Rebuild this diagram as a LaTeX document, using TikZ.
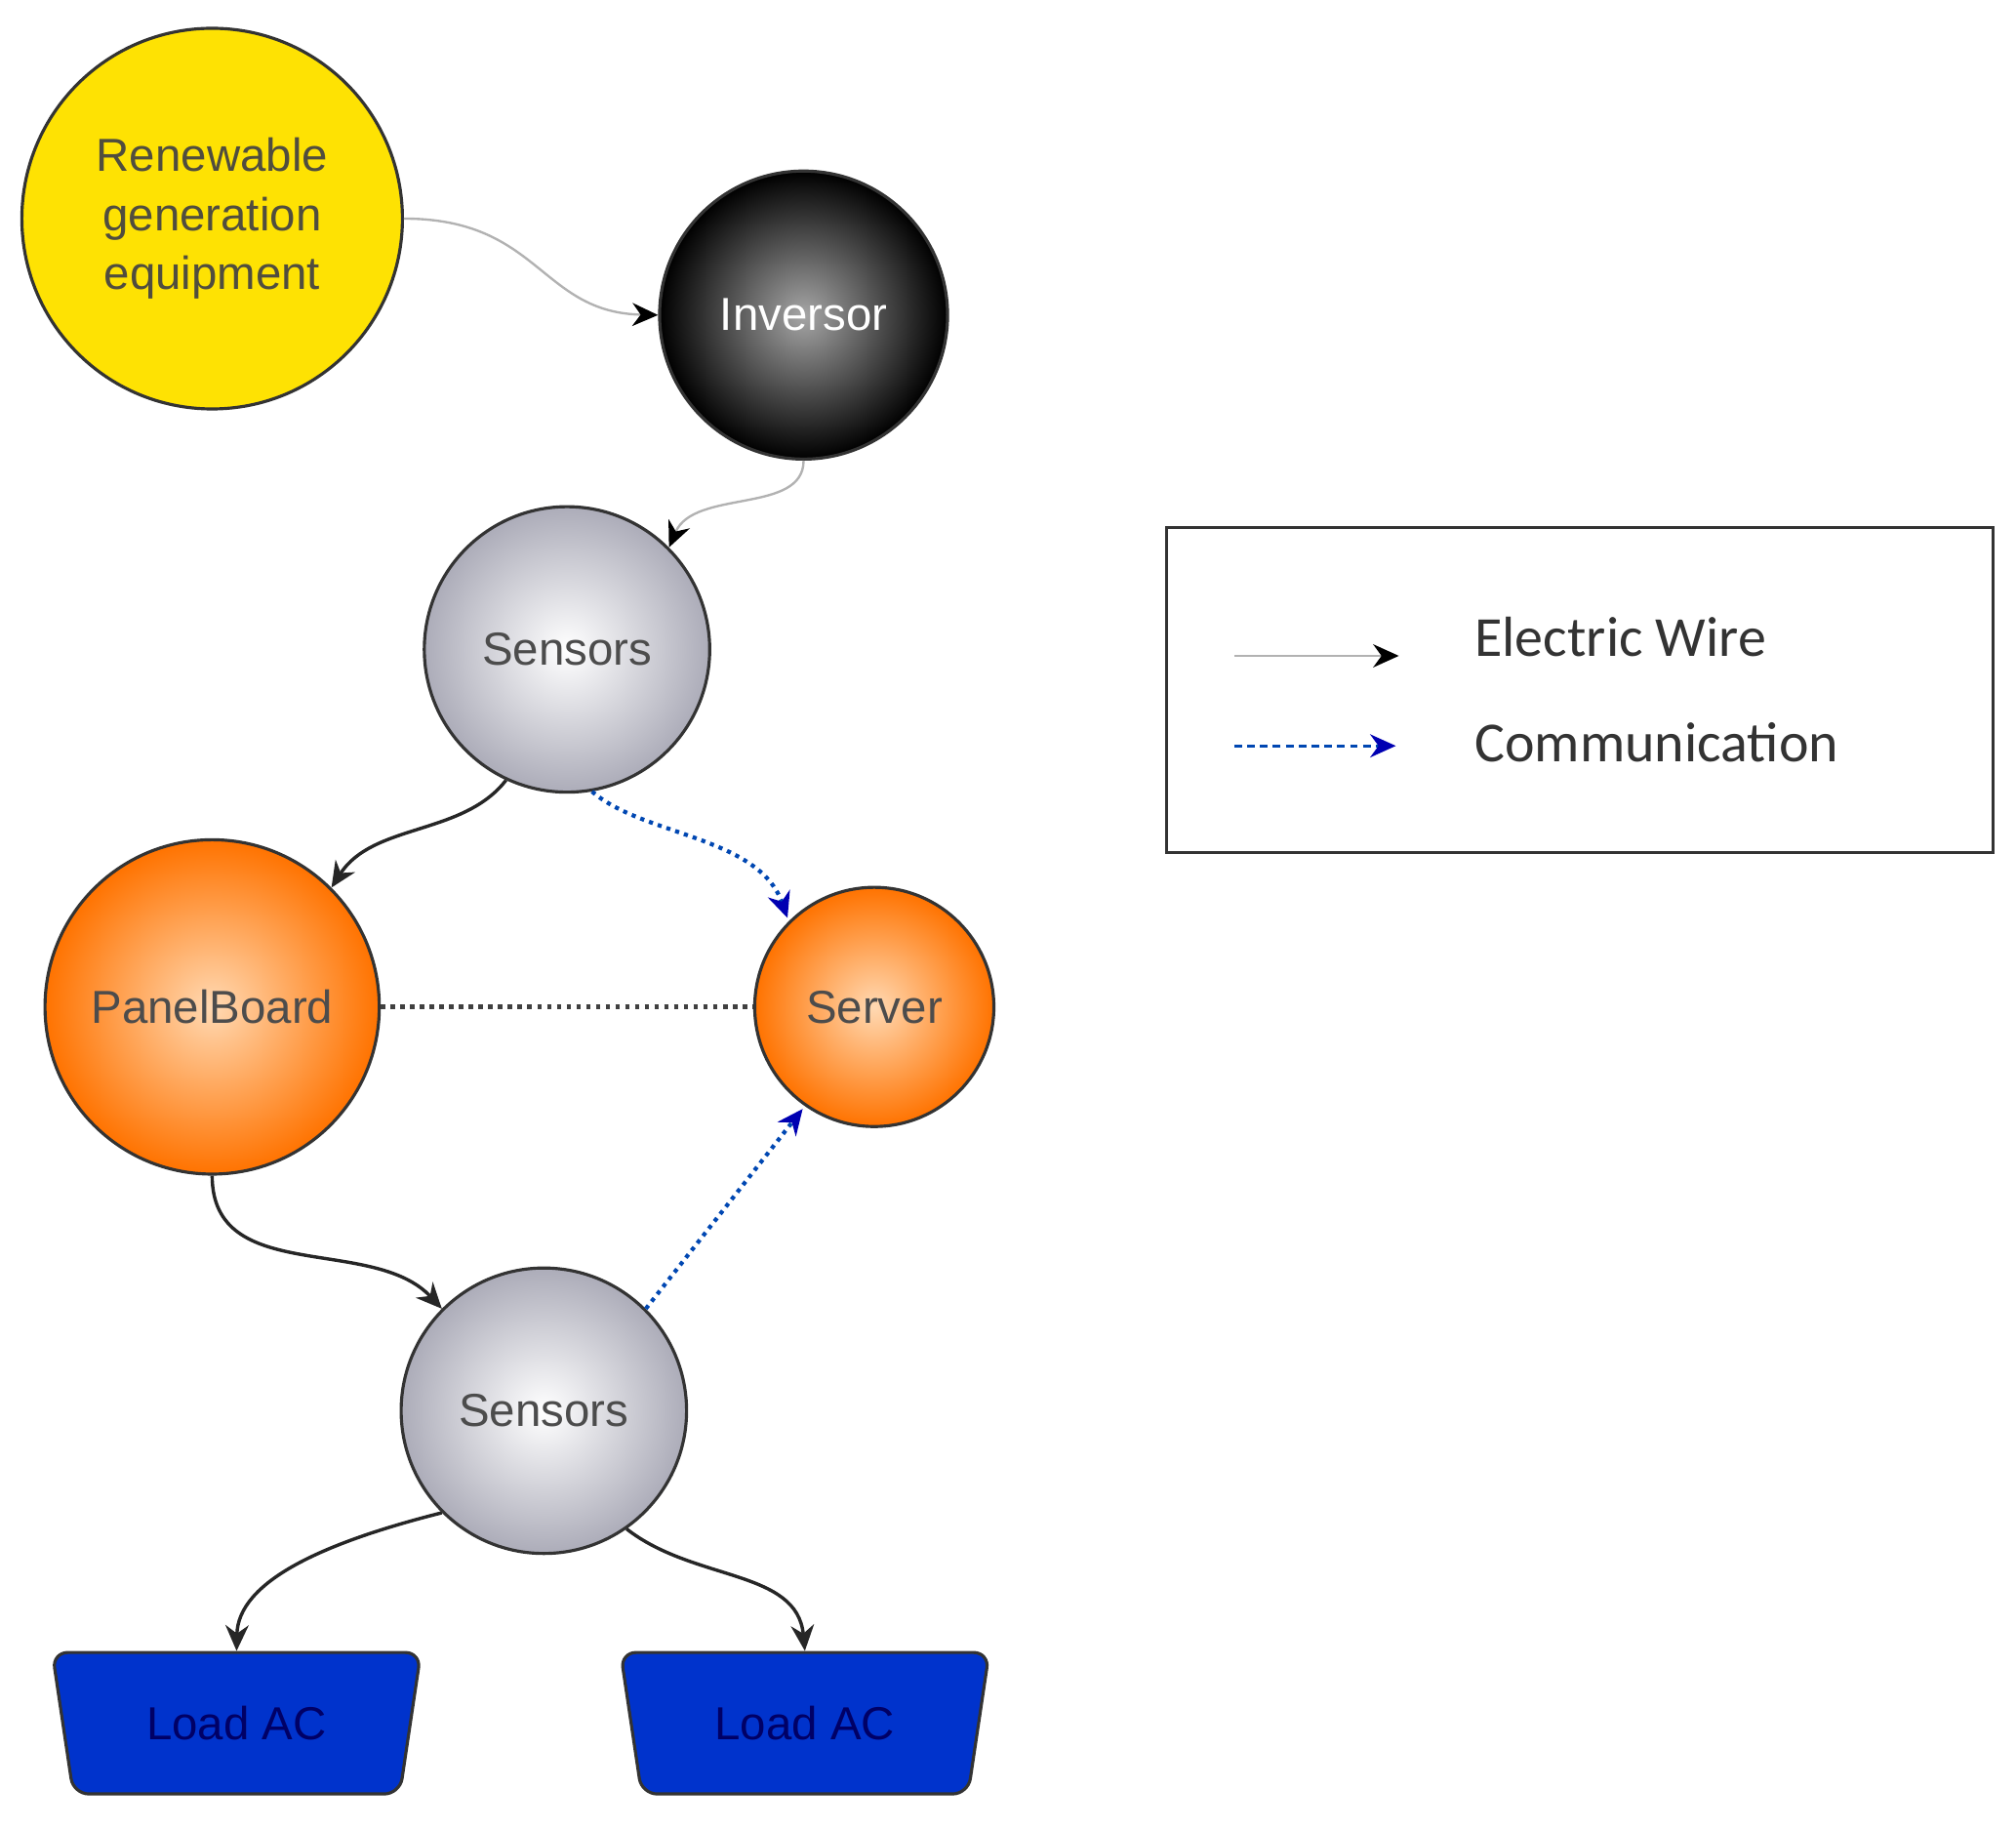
\documentclass[tikz,border=0pt]{standalone}
\usepackage{fontspec}
\setmainfont{Liberation Sans}
\newfontfamily\legfont{Carlito}
\usetikzlibrary{shapes.geometric,arrows.meta}
\begin{document}
\begin{tikzpicture}[x=0.5pt,y=-0.5pt,
  circ/.style={circle,draw=black!80,line width=1.2pt,align=center,inner sep=0pt,font=\fontsize{18}{23}\selectfont},
  gray node/.style={circ,inner color=white,outer color=gray!45!blue!15!gray!60,text=black!70},
  orange node/.style={circ,inner color=orange!30,outer color=orange!90!red,text=black!70},
  load/.style={trapezium,shape border rotate=180,trapezium angle=76,draw=black!80,line width=1.2pt,
     fill=blue!75!cyan!80!black,minimum width=144pt,minimum height=55pt,rounded corners=6pt,
     font=\fontsize{18}{22}\selectfont,text=blue!40!black,trapezium stretches=true},
  wire/.style={line width=1.3pt,black!85,-{Stealth[length=10pt,width=9pt]}},
  lwire/.style={line width=0.9pt,black!30,-{Stealth[length=10pt,width=9pt,fill=black,color=black]}},
  comm/.style={line width=1.6pt,blue!60!cyan!70!black,dotted,-{Stealth[length=10pt,width=9pt,fill=blue!70!black,color=blue!70!black,sep]}}]
\useasboundingbox (0,0) rectangle (1568,1423);
\node[circ,fill=yellow!85!orange,minimum size=148pt,text=black!65!yellow!60!black] (ren) at (165,170) {Renewable\\generation\\equipment};
\node[circ,inner color=gray!70,outer color=black,minimum size=112pt,text=white] (inv) at (625,245) {Inversor};
\node[gray node,minimum size=111pt] (s1) at (441,505) {Sensors};
\node[orange node,minimum size=130pt] (pb) at (165,783) {PanelBoard};
\node[orange node,minimum size=93pt] (srv) at (680,783) {Server};
\node[gray node,minimum size=111pt] (s2) at (423,1097) {Sensors};
\node[load] (l1) at (184,1340) {Load AC};
\node[load] (l2) at (626,1340) {Load AC};

\draw[lwire] (ren.east) .. controls (420,170) and (420,243) .. (inv.west);
\draw[lwire] (inv.south) .. controls (625,400) and (540,380) .. (s1.north east);
\draw[wire] (s1.-115) .. controls (360,650) and (290,640) .. (pb.north east);
\draw[comm] (s1.-80) .. controls (500,650) and (590,650) .. (srv.north west);
\draw[line width=1.8pt,black!75,dotted] (pb.east) -- (srv.west);
\draw[wire] (pb.south) .. controls (165,1000) and (290,960) .. (s2.north west);
\draw[comm] (s2.north east) -- (srv.-125);
\draw[wire] (s2.-135) .. controls (250,1200) and (185,1230) .. (l1.north);
\draw[wire] (s2.-55) .. controls (540,1230) and (620,1220) .. (l2.north);

\node[draw=black!80,line width=1.2pt,minimum width=321.5pt,minimum height=126.5pt] (leg) at (1228.5,536.5) {};
\coordinate (e1) at (960,510); \coordinate (e2) at (1088,510);
\coordinate (c1) at (960,580); \coordinate (c2) at (1088,580);
\draw[lwire] (e1) -- (e2);
\draw[comm,line width=1pt,dash pattern=on 3pt off 2pt] (c1) -- (c2);
\node[anchor=west,font=\legfont\fontsize{22}{26}\selectfont,text=black!80] (t1) at (1140,495) {Electric Wire};
\node[anchor=west,font=\legfont\fontsize{22}{26}\selectfont,text=black!80] (t2) at (1140,577) {Communication};
\end{tikzpicture}
\end{document}
